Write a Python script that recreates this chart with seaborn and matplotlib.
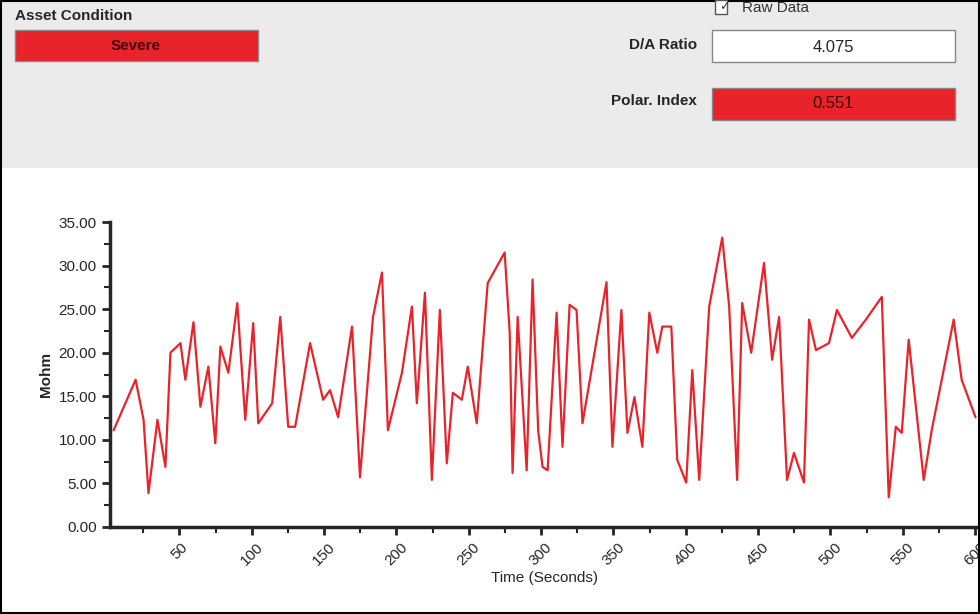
import matplotlib
matplotlib.use("Agg")
import matplotlib.pyplot as plt
import seaborn as sns
import pandas as pd
from matplotlib.patches import Rectangle
from matplotlib.ticker import MultipleLocator

times = [4.5,19.7,25.2,28.6,34.8,40.3,43.8,50.7,54.1,59.7,64.5,70.0,74.8,78.3,83.8,90.0,95.5,101.0,104.5,114.1,
         119.7,125.2,130.0,140.3,149.3,154.1,159.7,169.3,174.8,183.8,190.0,194.1,203.8,210.7,214.1,219.7,224.5,230.0,234.8,239.0,
         245.2,249.3,255.5,263.1,274.8,278.3,280.3,283.8,290.0,294.1,298.0,301.0,304.5,310.7,314.8,319.7,324.5,328.6,345.2,349.3,
         355.5,359.7,364.5,370.0,374.8,380.3,383.8,390.0,394.1,400.3,404.5,409.3,416.2,425.2,430.0,435.5,439.0,445.2,454.1,459.7,
         464.5,470.0,474.8,481.7,485.2,490.0,499.0,504.5,514.8,524.5,535.5,540.3,545.2,549.3,554.1,564.5,570.0,585.2,590.7,600.3]
mohm = [11.1,16.9,12.3,3.9,12.3,6.9,20.0,21.1,16.9,23.5,13.8,18.4,9.6,20.7,17.7,25.7,12.3,23.4,11.9,14.2,
        24.1,11.5,11.5,21.1,14.6,15.7,12.6,23.0,5.7,24.1,29.2,11.1,17.7,25.3,14.2,26.9,5.4,24.9,7.3,15.4,
        14.6,18.4,11.9,28.0,31.5,22.3,6.2,24.1,6.5,28.4,11.0,6.9,6.5,24.6,9.2,25.5,24.9,11.9,28.1,9.2,
        24.9,10.8,14.9,9.2,24.6,20.0,23.0,23.0,7.7,5.1,18.0,5.4,25.3,33.2,25.3,5.4,25.7,20.0,30.3,19.2,
        24.1,5.4,8.5,5.1,23.8,20.3,21.1,24.9,21.7,23.8,26.4,3.4,11.5,10.8,21.5,5.4,11.1,23.8,16.9,12.6]
x_ticks = [50,100,150,200,250,300,350,400,450,500,550,600]

W, H = 980, 614
fig = plt.figure(figsize=(9.8, 6.14), dpi=100)
sns.set_style("ticks")
plt.rcParams['font.family'] = ['Liberation Sans', 'DejaVu Sans']
RED = '#e8232a'

def px(x, y, w, h):
    return (x / W, 1 - (y + h) / H, w / W, h / H)

def rect(x, y, w, h, fc, ec='none', lw=1):
    l, b, ww, hh = px(x, y, w, h)
    fig.patches.append(Rectangle((l, b), ww, hh, transform=fig.transFigure, facecolor=fc,
                                 edgecolor=ec, linewidth=lw, zorder=0))

def txt(x, y, s, **kw):
    fig.text(x / W, 1 - y / H, s, **kw)

rect(0, 0, W, 168, '#ebebeb')
rect(1, 1, W - 2, H - 2, 'none', 'black', 1.5)
txt(15, 16, 'Asset Condition', fontsize=11, fontweight='bold', va='center')
rect(15, 30, 243, 31, RED, '#888888')
txt(136, 46, 'Severe', fontsize=11, fontweight='bold', ha='center', va='center', color='#400000')
rect(715, 0, 12, 14, 'white', '#555555')
txt(719, 7, '✓', fontsize=9, va='center', color='#333366')
txt(742, 8, 'Raw Data', fontsize=11, va='center', color='#333333')
txt(697, 45, 'D/A Ratio', fontsize=11, fontweight='bold', ha='right', va='center')
rect(712, 30, 243, 32, 'white', '#888888')
txt(833, 47, '4.075', fontsize=12, ha='center', va='center')
txt(697, 101, 'Polar. Index', fontsize=11, fontweight='bold', ha='right', va='center')
rect(712, 88, 243, 32, RED, '#888888')
txt(833, 104, '0.551', fontsize=12, ha='center', va='center', color='#400000')

ax = fig.add_axes(px(110, 222, 868, 305))
df = pd.DataFrame({'t': times, 'v': mohm})
sns.lineplot(data=df, x='t', y='v', ax=ax, color=RED, linewidth=1.6)
ax.set_xlim(2, 602)
ax.set_ylim(0, 35)
ax.set_xticks(x_ticks)
ax.xaxis.set_minor_locator(MultipleLocator(25))
ax.yaxis.set_major_locator(MultipleLocator(5))
ax.yaxis.set_minor_locator(MultipleLocator(2.5))
ax.set_yticklabels([f'{v:.2f}' for v in ax.get_yticks()])
ax.tick_params(axis='x', labelrotation=45, labelsize=11, width=2, length=6)
ax.tick_params(axis='y', labelsize=11, width=2, length=6)
ax.tick_params(which='minor', width=1.5, length=4)
for lab in ax.get_xticklabels():
    lab.set_ha('center')
ax.set_xlabel('Time (Seconds)', fontsize=11, labelpad=2)
ax.set_ylabel('Mohm', fontsize=11, fontweight='bold')
for s in ['left', 'bottom']:
    ax.spines[s].set_linewidth(2.5)
sns.despine(ax=ax)
fig.savefig('out.png', dpi=100)
